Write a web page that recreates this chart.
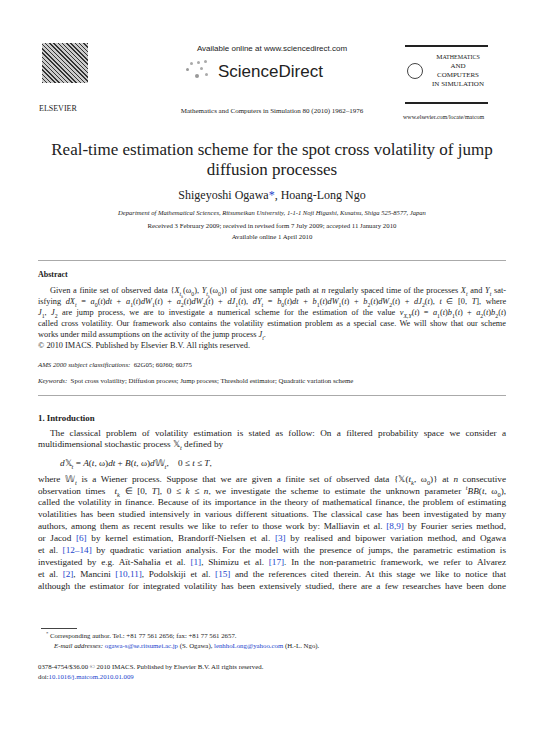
<!DOCTYPE html>
<html><head><meta charset="utf-8">
<script src="https://cdn.jsdelivr.net/npm/chart.js@4"></script>
<style>
body{margin:0;width:544px;height:742px;background:#fff;font-family:"Liberation Serif",serif;color:#222;position:relative;overflow:hidden}
.l{position:absolute;left:38px;width:468px;white-space:nowrap;font-size:9.2px;line-height:10px}
.j{text-align:justify;text-align-last:justify;white-space:normal;height:10px}
.c{text-align:center}
.a{font-size:8.3px}
sub,sup{line-height:0;font-size:70%}
.r{position:absolute;left:38px;width:468px;border-top:1px solid #aaa}
i{font-style:italic}
.b{color:#24c}
.d{position:absolute;width:3px;height:3px;border-radius:50%;background:#aaa}
</style></head><body>
<div class="l c" style="top:44px;font-family:'Liberation Sans';font-size:8px">Available online at www.sciencedirect.com</div>
<div style="position:absolute;top:63px;left:218px;font-family:'Liberation Sans';font-size:17px;line-height:18px;color:#222">ScienceDirect</div>
<div class="d" style="left:190px;top:62px"></div><div class="d" style="left:197px;top:61px"></div><div class="d" style="left:204px;top:60px"></div>
<div class="d" style="left:186px;top:68px;background:#999"></div><div class="d" style="left:200px;top:67px"></div>
<div class="d" style="left:195px;top:74px;background:#999;width:4px;height:4px"></div><div class="d" style="left:205px;top:73px"></div>
<div class="l c" style="top:106px;font-size:7px">Mathematics and Computers in Simulation 80 (2010) 1962–1976</div>
<div style="position:absolute;left:42px;top:43px;width:46px;height:40px;background:repeating-linear-gradient(45deg,#333 0 1px,#ccc 1px 3px)"></div>
<div style="position:absolute;left:39px;top:104px;font-size:8px">ELSEVIER</div>
<div style="position:absolute;left:405px;top:45px;width:83px;border-top:2px solid #222"></div>
<div style="position:absolute;left:405px;top:102px;width:83px;border-top:2px solid #222"></div>
<div style="position:absolute;left:424px;top:53px;width:68px;font-size:7px;line-height:9px;text-align:center">M<span style="font-size:6px">ATHEMATICS</span><br>AND<br>COMPUTERS<br>IN SIMULATION</div>
<div style="position:absolute;left:407px;top:63px;width:14px;height:14px;border:1px solid #444;border-radius:50%"></div>
<div style="position:absolute;left:403px;top:114px;font-size:6px">www.elsevier.com/locate/matcom</div>
<div class="l c" style="top:140px;font-size:17px;line-height:19.5px">Real-time estimation scheme for the spot cross volatility of jump<br>diffusion processes</div>
<div class="l c" style="top:188px;font-size:12px;line-height:14px">Shigeyoshi Ogawa<span class="b">*</span>, Hoang-Long Ngo</div>
<div class="l c" style="top:208px;font-size:6.6px"><i>Department of Mathematical Sciences, Ritsumeikan University, 1-1-1 Noji Higashi, Kusatsu, Shiga 525-8577, Japan</i></div>
<div class="l c" style="top:221px;font-size:6.8px">Received 3 February 2009; received in revised form 7 July 2009; accepted 11 January 2010</div>
<div class="l c" style="top:232px;font-size:6.8px">Available online 1 April 2010</div>
<div class="r" style="top:260px"></div>
<div class="l" style="top:270px;font-weight:bold;font-size:8px">Abstract</div>
<div class="l j a" style="top:286px;left:50px;width:456px">Given a finite set of observed data {<i>X</i><sub><i>t<sub>k</sub></i></sub>(ω<sub>0</sub>), <i>Y</i><sub><i>t<sub>k</sub></i></sub>(ω<sub>0</sub>)} of just one sample path at <i>n</i> regularly spaced time of the processes <i>X<sub>t</sub></i> and <i>Y<sub>t</sub></i> sat-</div>
<div class="l j a" style="top:297px">isfying <i>dX<sub>t</sub></i> = <i>a</i><sub>0</sub>(<i>t</i>)<i>dt</i> + <i>a</i><sub>1</sub>(<i>t</i>)<i>dW</i><sub>1</sub>(<i>t</i>) + <i>a</i><sub>2</sub>(<i>t</i>)<i>dW</i><sub>2</sub>(<i>t</i>) + <i>dJ</i><sub>1</sub>(<i>t</i>), <i>dY<sub>t</sub></i> = <i>b</i><sub>0</sub>(<i>t</i>)<i>dt</i> + <i>b</i><sub>1</sub>(<i>t</i>)<i>dW</i><sub>1</sub>(<i>t</i>) + <i>b</i><sub>2</sub>(<i>t</i>)<i>dW</i><sub>2</sub>(<i>t</i>) + <i>dJ</i><sub>2</sub>(<i>t</i>), <i>t</i> ∈ [0, <i>T</i>], where</div>
<div class="l j a" style="top:308px"><i>J</i><sub>1</sub>, <i>J</i><sub>2</sub> are jump process, we are to investigate a numerical scheme for the estimation of the value <i>v</i><sub><i>X</i>,<i>Y</i></sub>(<i>t</i>) = <i>a</i><sub>1</sub>(<i>t</i>)<i>b</i><sub>1</sub>(<i>t</i>) + <i>a</i><sub>2</sub>(<i>t</i>)<i>b</i><sub>2</sub>(<i>t</i>)</div>
<div class="l j a" style="top:319px">called cross volatility. Our framework also contains the volatility estimation problem as a special case. We will show that our scheme</div>
<div class="l a" style="top:330px">works under mild assumptions on the activity of the jump process <i>J<sub>t</sub></i>.</div>
<div class="l a" style="top:341px">© 2010 IMACS. Published by Elsevier B.V. All rights reserved.</div>
<div class="l" style="top:360px;font-size:6.8px"><i>AMS 2000 subject classifications:</i>&nbsp; 62G05; 60J60; 60J75</div>
<div class="l" style="top:376px;font-size:6.8px"><i>Keywords:</i>&nbsp; Spot cross volatility; Diffusion process; Jump process; Threshold estimator; Quadratic variation scheme</div>
<div class="r" style="top:395px"></div>
<div class="l" style="top:413px;font-weight:bold;font-size:8.8px">1. Introduction</div>
<div class="l j" style="top:428px;left:50px;width:456px">The classical problem of volatility estimation is stated as follow: On a filtered probability space we consider a</div>
<div class="l" style="top:439px">multidimensional stochastic process 𝕏<sub><i>t</i></sub> defined by</div>
<div class="l" style="top:458px;left:60px"><i>d</i>𝕏<sub><i>t</i></sub> = <i>A</i>(<i>t</i>, ω)<i>dt</i> + <i>B</i>(<i>t</i>, ω)<i>d</i>𝕎<sub><i>t</i></sub>, &nbsp;&nbsp; 0 ≤ <i>t</i> ≤ <i>T</i>,</div>
<div class="l j" style="top:474px">where 𝕎<sub><i>t</i></sub> is a Wiener process. Suppose that we are given a finite set of observed data {𝕏(<i>t<sub>k</sub></i>, ω<sub>0</sub>)} at <i>n</i> consecutive</div>
<div class="l j" style="top:486px">observation times &nbsp;<i>t<sub>k</sub></i> ∈ [0, <i>T</i>], 0 ≤ <i>k</i> ≤ <i>n</i>, we investigate the scheme to estimate the unknown parameter <sup><i>t</i></sup><i>BB</i>(<i>t</i>, ω<sub>0</sub>),</div>
<div class="l j" style="top:497px">called the volatility in finance. Because of its importance in the theory of mathematical finance, the problem of estimating</div>
<div class="l j" style="top:509px">volatilities has been studied intensively in various different situations. The classical case has been investigated by many</div>
<div class="l j" style="top:521px">authors, among them as recent results we like to refer to those work by: Malliavin et al. <span class="b">[8,9]</span> by Fourier series method,</div>
<div class="l j" style="top:533px">or Jacod <span class="b">[6]</span> by kernel estimation, Brandorff-Nielsen et al. <span class="b">[3]</span> by realised and bipower variation method, and Ogawa</div>
<div class="l j" style="top:545px">et al. <span class="b">[12–14]</span> by quadratic variation analysis. For the model with the presence of jumps, the parametric estimation is</div>
<div class="l j" style="top:557px">investigated by e.g. Aït-Sahalia et al. <span class="b">[1]</span>, Shimizu et al. <span class="b">[17]</span>. In the non-parametric framework, we refer to Alvarez</div>
<div class="l j" style="top:569px">et al. <span class="b">[2]</span>, Mancini <span class="b">[10,11]</span>, Podolskiji et al. <span class="b">[15]</span> and the references cited therein. At this stage we like to notice that</div>
<div class="l j" style="top:581px">although the estimator for integrated volatility has been extensively studied, there are a few researches have been done</div>
<div style="position:absolute;left:41px;top:628px;width:36px;border-top:1px solid #444"></div>
<div class="l" style="top:631px;left:46px;font-size:6.8px"><sup>*</sup> Corresponding author. Tel.: +81 77 561 2656; fax: +81 77 561 2657.</div>
<div class="l" style="top:641px;left:54px;font-size:6.8px"><i>E-mail addresses:</i> <span class="b">ogawa-s@se.ritsumei.ac.jp</span> (S. Ogawa), <span class="b">lenhhoLong@yahoo.com</span> (H.-L. Ngo).</div>
<div class="l" style="top:662px;font-size:6.8px">0378-4754/$36.00 © 2010 IMACS. Published by Elsevier B.V. All rights reserved.</div>
<div class="l" style="top:672px;font-size:6.8px">doi:<span class="b">10.1016/j.matcom.2010.01.009</span></div>
</body></html>
